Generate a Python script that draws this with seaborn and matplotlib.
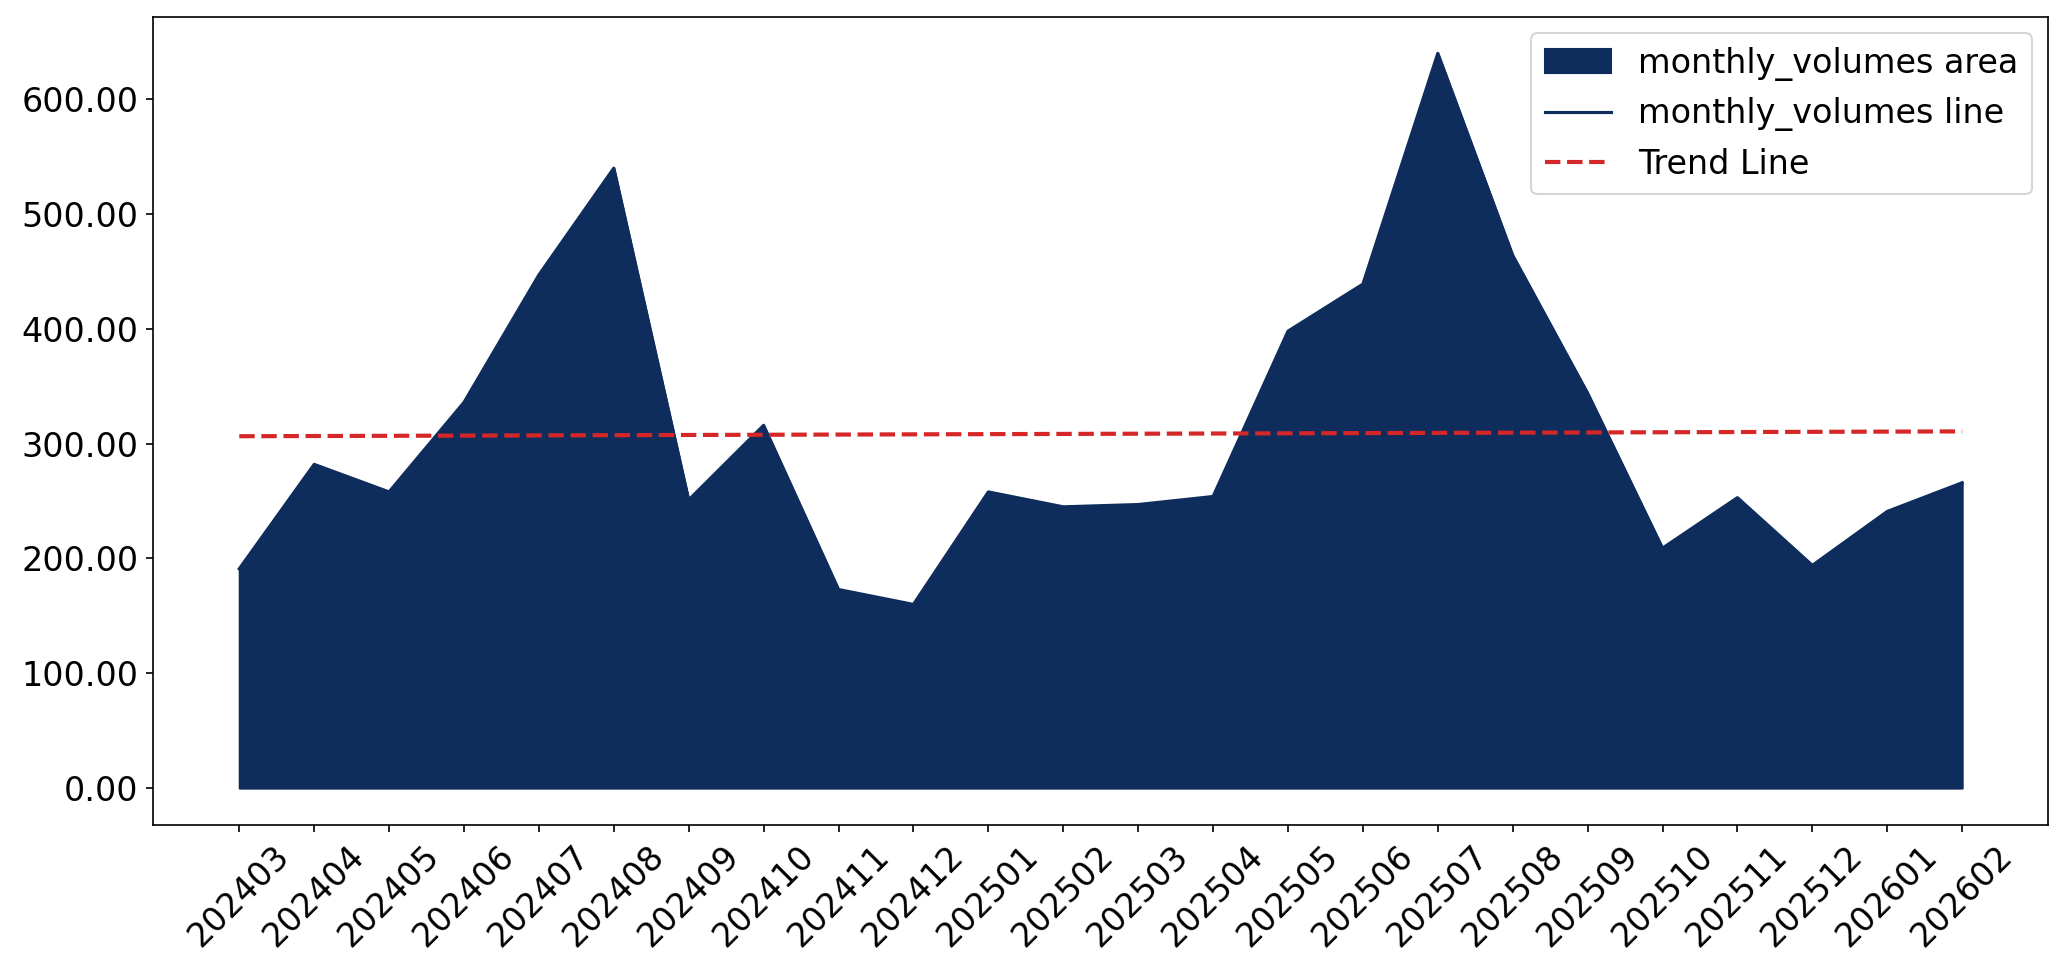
import numpy as np
import pandas as pd
import matplotlib
matplotlib.use("Agg")
import matplotlib.pyplot as plt
import seaborn as sns

# monthly volumes
months = ["202403", "202404", "202405", "202406", "202407", "202408",
          "202409", "202410", "202411", "202412", "202501", "202502",
          "202503", "202504", "202505", "202506", "202507", "202508",
          "202509", "202510", "202511", "202512", "202601", "202602"]
volumes = [191, 282, 258, 336, 447, 540,
           251, 316, 173, 160, 258, 245,
           247, 254, 398, 439, 640, 464,
           344, 209, 253, 194, 241, 266]

df = pd.DataFrame({"month": months, "monthly_volumes": volumes})
df["idx"] = np.arange(len(df))

# trend from a linear fit
b, a = np.polyfit(df["idx"], df["monthly_volumes"], 1)
df["trend"] = a + b * df["idx"]

plt.rcParams["font.family"] = ["DejaVu Sans"]
plt.rcParams["font.size"] = 16

fig, ax = plt.subplots(figsize=(2069 / 150, 975 / 150), dpi=150)
fig.subplots_adjust(left=0.074, right=0.990, top=0.983, bottom=0.154)

navy = "#0e2d5c"
ax.fill_between(df["idx"], df["monthly_volumes"], color=navy, label="monthly_volumes area")
sns.lineplot(data=df, x="idx", y="monthly_volumes", ax=ax, color=navy,
             linewidth=1.5, label="monthly_volumes line")
sns.lineplot(data=df, x="idx", y="trend", ax=ax, color="#d62728",
             linestyle="--", linewidth=2, label="Trend Line")

ax.set_xticks(df["idx"])
ax.set_xticklabels(df["month"], rotation=45, fontsize=16)
ax.tick_params(axis="y", labelsize=16)
ax.yaxis.set_major_formatter(matplotlib.ticker.FormatStrFormatter("%.2f"))
ax.set_xlabel("")
ax.set_ylabel("")
ax.set_xlim(-1.15, 24.15)
ax.set_ylim(-32, 672)
ax.legend(loc="upper right", fontsize=16)

fig.savefig("out.png", dpi=150)
